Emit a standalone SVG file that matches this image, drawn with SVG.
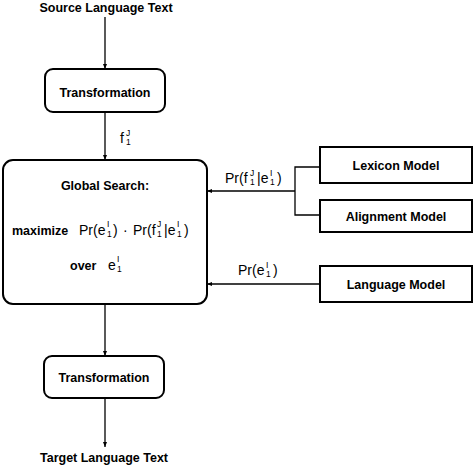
<svg xmlns="http://www.w3.org/2000/svg" width="474" height="467" viewBox="0 0 474 467">
<defs>
<marker id="ah" viewBox="0 0 10 10" refX="10" refY="5" markerWidth="5" markerHeight="5" orient="auto" markerUnits="userSpaceOnUse">
<path d="M0,1 L10,5 L0,9 z" fill="#000"/>
</marker>
</defs>
<style>
.box{fill:#fff;stroke:#000;stroke-width:2}
.lbl{font-family:"Liberation Sans",Arial,sans-serif;font-weight:bold;font-size:12.5px;fill:#000;text-anchor:middle}
.m{font-family:"Liberation Sans",Arial,sans-serif;font-size:14px;fill:#000}
.s{font-family:"Liberation Sans",Arial,sans-serif;font-size:8.5px;fill:#000}
.b{font-weight:bold;font-size:12.5px}
.c{fill:none;stroke:#000;stroke-width:1.3}
</style>
<rect width="474" height="467" fill="#fff"/>
<g id="connectors">
<line class="c" x1="105" y1="17" x2="105" y2="69" marker-end="url(#ah)"/>
<line class="c" x1="105" y1="112" x2="105" y2="160" marker-end="url(#ah)"/>
<line class="c" x1="105" y1="304" x2="105" y2="356" marker-end="url(#ah)"/>
<line class="c" x1="105" y1="398" x2="105" y2="447" marker-end="url(#ah)"/>
<polyline class="c" points="320,167 295,167 295,215 320,215"/>
<line class="c" x1="295" y1="191" x2="207" y2="191" marker-end="url(#ah)"/>
<line class="c" x1="320" y1="284" x2="207" y2="284" marker-end="url(#ah)"/>
<text class="m" x="120" y="143">f</text><text class="s" x="126" y="136">J</text><text class="s" x="126" y="145">1</text>
<text class="m" x="225" y="183">Pr(f</text><text class="s" x="250" y="176">J</text><text class="s" x="250" y="185">1</text><text class="m" x="257" y="183">|e</text><text class="s" x="270" y="176">I</text><text class="s" x="270" y="185">1</text><text class="m" x="277" y="183">)</text>
<text class="m" x="238" y="275">Pr(e</text><text class="s" x="266" y="268">I</text><text class="s" x="266" y="277">1</text><text class="m" x="273" y="275">)</text>
</g>
<g id="source"><text class="lbl" x="106" y="12" font-size="13">Source Language Text</text></g>
<g id="transform1">
<rect class="box" x="45" y="69" width="120" height="43" rx="8"/>
<text class="lbl" x="105" y="97">Transformation</text>
</g>
<g id="search">
<rect class="box" x="3" y="160" width="204" height="144" rx="10"/>
<text class="lbl" x="105" y="190">Global Search:</text>
<text class="m" y="235"><tspan class="b" x="12">maximize</tspan><tspan x="79">Pr(e</tspan></text>
<text class="s" x="107" y="227">I</text><text class="s" x="107" y="237">1</text>
<text class="m" x="113" y="235">)</text>
<text class="m" x="123" y="235">·</text>
<text class="m" x="133" y="235">Pr(f</text>
<text class="s" x="157" y="227">J</text><text class="s" x="157" y="237">1</text>
<text class="m" x="164" y="235">|e</text>
<text class="s" x="177" y="227">I</text><text class="s" x="177" y="237">1</text>
<text class="m" x="184" y="235">)</text>
<text class="m b" x="70" y="270">over</text>
<text class="m" x="108" y="270">e</text>
<text class="s" x="117" y="262">I</text><text class="s" x="117" y="272">1</text>
</g>
<g id="lexicon">
<rect class="box" x="320" y="147" width="152" height="36"/>
<text class="lbl" x="396" y="170">Lexicon Model</text>
</g>
<g id="alignment">
<rect class="box" x="320" y="200" width="152" height="32"/>
<text class="lbl" x="396" y="221">Alignment Model</text>
</g>
<g id="language">
<rect class="box" x="320" y="266" width="152" height="36"/>
<text class="lbl" x="396" y="289">Language Model</text>
</g>
<g id="transform2">
<rect class="box" x="44" y="356" width="120" height="42" rx="8"/>
<text class="lbl" x="104" y="382">Transformation</text>
</g>
<g id="target"><text class="lbl" x="104" y="462" font-size="13">Target Language Text</text></g>
</svg>
